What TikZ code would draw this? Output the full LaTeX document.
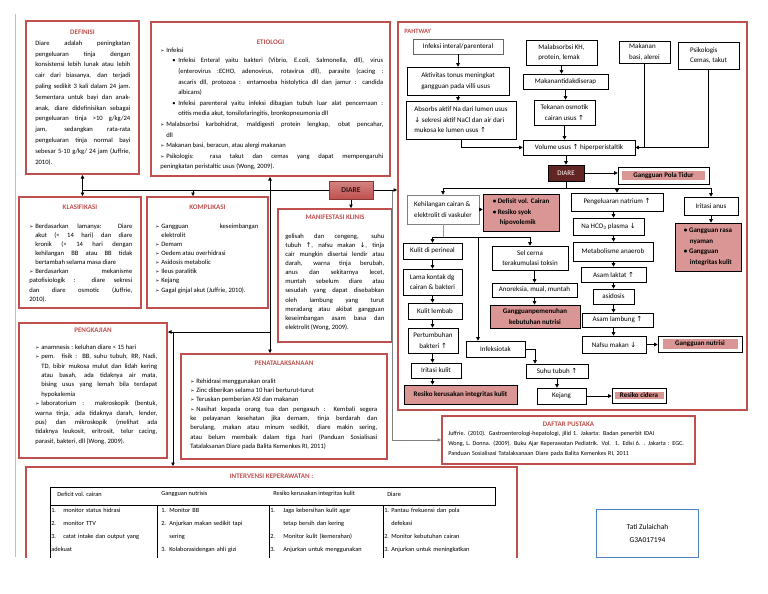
\documentclass[tikz,border=0pt]{standalone}
\usepackage{fontspec}
\usepackage{graphicx}
\setmainfont{Carlito}
\newfontfamily\sym{DejaVu Sans}
\usetikzlibrary{arrows.meta,positioning,calc}
\definecolor{boxred}{RGB}{192,80,77}
\definecolor{pk}{RGB}{217,150,148}
\definecolor{maroon}{RGB}{99,37,35}
\definecolor{tblue}{RGB}{79,129,189}
\newcommand{\uarr}{{\sym↑}}
\newcommand{\darr}{{\sym↓}}
\newcommand{\itm}{\noindent\hangindent=6pt\hangafter=1\makebox[6pt][l]{\sym\scalebox{.75}{➢}}}
\newcommand{\subitm}{\noindent\hangindent=18pt\hangafter=1\hspace*{12pt}\makebox[6pt][l]{\textbullet}}
\newcommand{\nit}[2]{\noindent\hangindent=#1\hangafter=1\makebox[#1][l]{#2}}
\newcommand{\hlt}[2]{{\fboxsep=1.5pt\colorbox{pk}{\makebox[#1]{#2}}}}
\begin{document}
\begin{tikzpicture}[x=1pt,y=-1pt,line width=.6pt,
 panel/.style={draw=boxred,line width=2pt,fill=white,anchor=north west,inner sep=0pt},
 ttl/.style={font=\fontsize{7}{8}\selectfont\bfseries,text=boxred,inner sep=0pt},
 body/.style={anchor=north west,inner sep=0pt,text width=#1,align=justify},
 pn/.style={draw,line width=.6pt,fill=white,font=\fontsize{7}{10.5}\selectfont,inner sep=1pt,align=left},
 pkn/.style={pn,fill=pk,font=\fontsize{7}{10.5}\selectfont\bfseries},
 th/.style={anchor=west,inner sep=0pt,font=\fontsize{6.3}{7}\selectfont},
 td/.style={anchor=north west,inner sep=0pt,text width=#1,align=left,font=\fontsize{6.3}{13}\selectfont},
 arr/.style={-{Triangle[length=3.5pt,width=3.5pt]}}]
\path[fill=white,use as bounding box](0,0)rectangle(768,594);
\draw[black!25,line width=.5pt](15,14)--(15,557);
\node[panel,minimum width=113,minimum height=153](def)at(25,20){};
\node[ttl,below=9.5pt of def.north](deft){DEFINISI};
\node[body=95,font=\fontsize{6.6}{10.8}\selectfont](defb)at(35,40.5){Diare adalah peningkatan\linebreak pengeluaran tinja dengan\linebreak konsistensi lebih lunak atau lebih\linebreak cair dari biasanya, dan terjadi\linebreak paling sedikit 3 kali dalam 24 jam.\linebreak Sementara untuk bayi dan anak-\linebreak anak, diare didefinisikan sebagai\linebreak pengeluaran tinja >10 g/kg/24\linebreak jam, sedangkan rata-rata\linebreak pengeluaran tinja normal bayi\linebreak sebesar 5-10 g/kg/ 24 jam (Juffrie,\linebreak 2010).};
\node[panel,minimum width=239,minimum height=154](eti)at(150,21){};
\node[ttl,below=18.5pt of eti.north](etit){ETIOLOGI};
\node[body=223,font=\fontsize{6.6}{10.6}\selectfont](etib)at(160,47.5){\itm Infeksi\par
\subitm Infeksi Enteral yaitu bakteri (Vibrio, E.coli, Salmonella, dll), virus\linebreak (enterovirus :ECHO, adenovirus, rotavirus dll), parasite (cacing :\linebreak ascaris dll, protozoa : entamoeba histolytica dll dan jamur : candida\linebreak albicans)\par
\subitm Infeksi parenteral yaitu infeksi dibagian tubuh luar alat pencernaan :\linebreak otitis media akut, tonsilofaringitis, bronkopneumonia dll\par
\itm Malabsorbsi karbohidrat, maldigesti protein lengkap, obat pencahar,\linebreak dll\par
\itm Makanan basi, beracun, atau alergi makanan\par
\itm Psikologis: rasa takut dan cemas yang dapat mempengaruhi\linebreak peningkatan peristaltic usus (Wong, 2009).};
\node[panel,minimum width=122,minimum height=111](kla)at(18,196){};
\node[ttl,below=8.5pt of kla.north](klat){KLASIFIKASI};
\node[body=103,font=\fontsize{6.6}{9.1}\selectfont](klab)at(29,223.5){\itm Berdasarkan lamanya: Diare\linebreak akut (< 14 hari) dan diare\linebreak kronik (> 14 hari dengan\linebreak kehilangan BB atau BB tidak\linebreak bertambah selama masa diare\par
\itm Berdasarkan mekanisme\linebreak patofisiologik : diare sekresi\linebreak dan diare osmotic (Juffrie,\linebreak 2010).};
\node[panel,minimum width=121,minimum height=111](kom)at(146,196){};
\node[ttl,below=8.5pt of kom.north](komt){KOMPLIKASI};
\node[body=103,font=\fontsize{6.6}{9.1}\selectfont](komb)at(155,223.5){\itm Gangguan keseimbangan\linebreak elektrolit\par\itm Demam\par\itm Oedem atau overhidrasi\par\itm Asidosis metabolic\par\itm Ileus paralitik\par\itm Kejang\par\itm Gagal ginjal akut (Juffrie, 2010).};
\node[panel,minimum width=114,minimum height=133](man)at(277,208){};
\node[ttl,below=6.5pt of man.north](mant){MANIFESTASI KLINIS};
\node[body=99,font=\fontsize{6.6}{9.1}\selectfont](manb)at(285,233.5){gelisah dan cengeng, suhu\linebreak tubuh \uarr, nafsu makan \darr, tinja\linebreak cair mungkin disertai lendir atau\linebreak darah, warna tinja berubah,\linebreak anus dan sekitarnya lecet,\linebreak muntah sebelum diare atau\linebreak sesudah yang dapat disebabkan\linebreak oleh lambung yang turut\linebreak meradang atau akibat gangguan\linebreak keseimbangan asam basa dan\linebreak elektrolit (Wong, 2009).};
\node[panel,minimum width=148,minimum height=135](pkj)at(18,322){};
\node[ttl,below=5.5pt of pkj.north](pkjt){PENGKAJIAN};
\node[body=122,font=\fontsize{6.6}{9.4}\selectfont](pkjb)at(35,344.5){\itm anamnesis : keluhan diare < 15 hari\par
\itm pem. fisik : BB, suhu tubuh, RR, Nadi,\linebreak TD, bibir mukosa mulut dan lidah kering\linebreak atau basah, ada tidaknya air mata,\linebreak bising usus yang lemah bila terdapat\linebreak hypokalemia\par
\itm laboratorium : makroskopik (bentuk,\linebreak warna tinja, ada tidaknya darah, lender,\linebreak pus) dan mikroskopik (melihat ada\linebreak tidaknya leukosit, eritrosit, telur cacing,\linebreak parasit, bakteri, dll (Wong, 2009).};
\node[panel,minimum width=206,minimum height=105](pen)at(180,353){};
\node[ttl,below=7.5pt of pen.north](pent){PENATALAKSANAAN};
\node[body=187,font=\fontsize{6.6}{9.3}\selectfont](penb)at(190,378.5){\itm Rehidrasi menggunakan oralit\par
\itm Zinc diberikan selama 10 hari berturut-turut\par
\itm Teruskan pemberian ASI dan makanan\par
\itm Nasihat kepada orang tua dan pengasuh : Kembali segera\linebreak ke pelayanan kesehatan jika demam, tinja berdarah dan\linebreak berulang, makan atau minum sedikit, diare makin sering,\linebreak atau belum membaik dalam tiga hari (Panduan Sosialisasi\linebreak Tatalaksanan Diare pada Balita Kemenkes RI, 2011)};
\node[panel,minimum width=253,minimum height=48](dap)at(441,415){};
\node[ttl,below=6.5pt of dap.north](dapt){DAFTAR PUSTAKA};
\node[body=244,align=left,font=\fontsize{6.1}{10}\selectfont](dapb)at(448,430.5){Juffrie. (2010). Gastroenterologi-hepatologi, jilid 1. Jakarta: Badan penerbit IDAI\\Wong, L. Donna. (2009). Buku Ajar Keperawatan Pediatrik. Vol.~~1. Edisi 6. . Jakarta : EGC.\\Panduan Sosialisasi Tatalaksanaan Diare pada Balita Kemenkes RI, 2011};
\node[draw=tblue,line width=1pt,minimum width=102,minimum height=48,anchor=north west,align=center,font=\fontsize{7.5}{13}\selectfont](tati)at(596,509){Tati Zulaichah\\G3A017194};
\begin{scope}
\clip(0,0)rectangle(768,557);
\node[panel,minimum width=491,minimum height=130](int)at(25,466){};
\node[ttl,below=8pt of int.north](intt){INTERVENSI KEPERAWATAN :};
\draw(50,487)rectangle(495,505);\draw(50,505)--(50,560);\foreach \x in {157,269,383}\draw(\x,505)--(\x,560);
\node[th](h1)at(57,494){Deficit vol. cairan};\node[th](h2)at(161,494){Gangguan nutrisis};\node[th](h3)at(273,494){Resiko kerusakan integritas kulit};\node[th](h4)at(387,494){Diare};
\node[td=104](c1)at(51,508){\nit{12pt}{1.}monitor status hidrasi\par\nit{12pt}{2.}monitor TTV\par\nit{12pt}{3.}catat intake dan output yang\newline adekuat};
\node[td=106](c2)at(161,508){\nit{8pt}{1.}Monitor BB\par\nit{8pt}{2.}Anjurkan makan sedikit tapi\newline sering\par\nit{8pt}{3.}Kolaborasidengan ahli gizi};
\node[td=110](c3)at(270,508){\nit{13pt}{1.}Jaga kebersihan kulit agar\newline tetap bersih dan kering\par\nit{13pt}{2.}Monitor kulit (kemerahan)\par\nit{13pt}{3.}Anjurkan untuk menggunakan};
\node[td=110](c4)at(384,508){\nit{7pt}{1.}Pantau frekuensi dan pola\newline defekasi\par\nit{7pt}{2.}Monitor kebutuhan cairan\par\nit{7pt}{3.}Anjurkan untuk meningkatkan};
\end{scope}
\node[draw=boxred!70!black,line width=1pt,top color=boxred!70,bottom color=boxred,minimum width=44,minimum height=18,font=\fontsize{7.5}{8}\selectfont\bfseries,text=boxred!25!black](dia)at(351,190){DIARE};
\coordinate(jk)at(193,190);\coordinate(je)at(270,190);\coordinate(jd)at(392,190);\coordinate(jp)at(270,332);\coordinate(ji)at(173,332);
\draw(def.south|-dia.west)--(dia.west);\draw[arr](def.south|-dia.west)--(def.south);\draw[arr](def.south|-dia.west)--(def.south|-kla.north);
\draw[arr](jk)--(jk|-kom.north);\draw[arr](je)--(je|-eti.south);\draw[arr](je)--(je|-pen.north);
\draw[arr](jp)--(jp-|pkj.east);\draw[arr](ji)--(ji|-int.north);
\draw[arr](dia.south)--(dia.south|-man.north);
\draw[arr,black!50](jd)|-(dap.west);
\node[panel,minimum width=349,minimum height=388](pw)at(397,21){};
\draw[arr](dia.east)--(dia.east-|pw.west);
\node[ttl,anchor=west,font=\fontsize{6.5}{8}\selectfont\bfseries](pwt)at(404,31){PAHTWAY};
\node[pn,draw=black!60,minimum width=90,minimum height=15](pinf)at(458,46.5){Infeksi interal/parenteral};
\node[pn,minimum width=102,minimum height=28](pakt)at(458,81){Aktivitas tonus meningkat\\gangguan pada villi usus};
\node[pn,minimum width=110,minimum height=38](pabs)at(461,120){Absorbs aktif Na dari lumen usus\\\darr{} sekresi aktif NaCl dan air dari\\mukosa ke lumen usus \uarr};
\node[pn,minimum width=71,minimum height=25](pmal)at(561.5,52.5){Malabsorbsi KH,\\protein, lemak};
\node[pn,minimum width=85,minimum height=15](pmak)at(565.5,81.5){Makanantidakdiserap};
\node[pn,minimum width=61,minimum height=25,align=center](ptek)at(564.5,112.5){Tekanan osmotik\\cairan usus \uarr};
\node[pn,minimum width=112,minimum height=15](pvol)at(579,147.5){Volume usus \uarr{} hiperperistaltik};
\node[pn,minimum width=51,minimum height=22](pbas)at(644.5,52){Makanan\\basi, alerei};
\node[pn,minimum width=61,minimum height=27](ppsi)at(708.5,55.5){Psikologis\\Cemas, takut};
\node[pn,fill=maroon,text=white,minimum width=36,minimum height=16](pdia)at(566,173){DIARE};
\node[pn,minimum width=91,minimum height=17](ptid)at(663.5,175.5){\hlt{80pt}{\bfseries Gangguan Pola Tidur}};
\node[pn,draw=black!50,minimum width=72,minimum height=29](pkeh)at(443,209.5){Kehilangan cairan \&\\elektrolit di vaskuler};
\node[pkn,minimum width=76,minimum height=37](pdef)at(521,212.5){\textbullet\ Defisit vol. Cairan\\\textbullet\ Resiko syok\\\hspace*{7pt}hipovolemik};
\node[pn,minimum width=92,minimum height=18](pnat)at(617,202){Pengeluaran natrium \uarr};
\node[pn,minimum width=54,minimum height=18](panu)at(711,206){Iritasi anus};
\node[pn,minimum width=71,minimum height=17](pnah)at(608.5,226.5){Na HCO\textsubscript{3} plasma \darr};
\node[pkn,minimum width=66,minimum height=48](pnya)at(708,247){\textbullet\ Gangguan rasa\\\hspace*{6pt}nyaman\\\textbullet\ Gangguan\\\hspace*{6pt}integritas kulit};
\node[pn,minimum width=59,minimum height=16](pper)at(432.5,251){Kulit di perineal};
\node[pn,minimum width=76,minimum height=24,align=center](psel)at(530,258){Sel cerna\\terakumulasi toksin};
\node[pn,minimum width=80,minimum height=19](pmet)at(613,251.5){Metabolisme anaerob};
\node[pn,minimum width=59,minimum height=26](plam)at(432.5,282){Lama kontak dg\\cairan \& bakteri};
\node[pn,minimum width=65,minimum height=15](plak)at(613.5,274.5){Asam laktat \uarr};
\node[pn,minimum width=85,minimum height=14](pano)at(534.5,290){Anoreksia, mual, muntah};
\node[pn,minimum width=41,minimum height=15](pasi)at(613.5,296.5){asidosis};
\node[pn,minimum width=54,minimum height=16](plem)at(435,311){Kulit lembab};
\node[pkn,minimum width=90,minimum height=23,align=center](pgpn)at(535,316.5){Gangguanpemenuhan\\kebutuhan nutrisi};
\node[pn,minimum width=71,minimum height=14](plbg)at(617.5,320){Asam lambung \uarr};
\node[pn,minimum width=50,minimum height=25](ptum)at(433,340.5){Pertumbuhan\\\hspace*{6pt}bakteri \uarr};
\node[pn,minimum width=59,minimum height=16](pota)at(495.5,349){Infeksiotak};
\node[pn,minimum width=64,minimum height=17](pnaf)at(614,344.5){Nafsu makan \darr};
\node[pn,minimum width=84,minimum height=16](pgnu)at(700,344){\hlt{72pt}{\bfseries Gangguan nutrisi}};
\node[pn,minimum width=50,minimum height=15](prit)at(436,370.5){Iritasi kulit};
\node[pn,minimum width=62,minimum height=14](psuh)at(557,371){Suhu tubuh \uarr};
\node[pkn,minimum width=113,minimum height=19](pres)at(460.5,394.5){Resiko kerusakan integritas kulit};
\node[pn,minimum width=49,minimum height=16](pkej)at(561.5,396){Kejang};
\node[pn,minimum width=54,minimum height=15](pcid)at(639,395.5){\hlt{46pt}{\bfseries Resiko cidera}};
\draw[arr](pinf)--(pakt);\draw[arr](pakt.south)--(pakt.south|-pabs.north);\draw[arr](pabs.south)|-(pvol.west);
\draw[arr](pmal.south)--(pmal.south|-pmak.north);\draw[arr](pmak.south)--(pmak.south|-ptek.north);\draw[arr](ptek.south)--(ptek.south|-pvol.north);
\draw(pbas.south)--(pbas.south|-pvol.east);\draw[arr](ppsi.south)|-(pvol.east);
\draw[arr](pdia.north|-pvol.south)--(pdia.north);\draw[arr](pdia.east)--(pdia.east-|ptid.west);
\coordinate(pj1)at(566,188);\coordinate(pj2)at(443,237);\coordinate(pj3)at(478,237);
\draw(pdia.south)--(pj1);\draw[arr](pj1)-|(pkeh.north);\draw[arr](pj1)-|(pnat.north);\draw[arr](pj1)-|(panu.north);
\draw[arr](pkeh.east)--(pkeh.east-|pdef.west);\draw[arr](panu.south)--(panu.south|-pnya.north);
\draw[black!40](pkeh.south)--(pj2);\draw[arr](pj2)-|(pper.north);\draw[arr](pj2)-|(psel.north);\draw[arr](pj3)--(pj3|-pota.north);
\foreach \a/\b in {pper/plam,plam/plem,plem/ptum,ptum/prit,prit/pres}\draw[arr](\a.south-|pper)--(\b.north-|pper);
\foreach \a/\b in {pnat/pnah,pnah/pmet,pmet/plak,plak/pasi,pasi/plbg,plbg/pnaf}\draw[arr](\a.south-|pasi)--(\b.north-|pasi);
\foreach \a/\b in {psel/pano,pano/pgpn}\draw[arr](\a.south-|pano)--(\b.north-|pano);
\draw[arr](pota.east)-|($(psuh.north)+(-22,0)$);\draw[arr](psuh.south)--(psuh.south|-pkej.north);
\draw[arr](pkej.east)--(pkej.east-|pcid.west);\draw[arr](pnaf.east)--(pnaf.east-|pgnu.west);
\end{tikzpicture}
\end{document}
